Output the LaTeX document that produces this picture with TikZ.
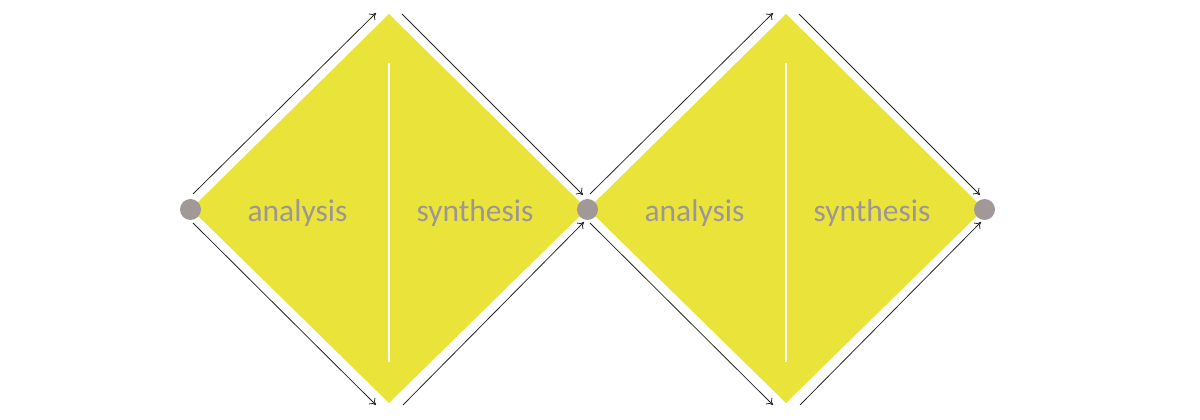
\documentclass[tikz,border=0pt]{standalone}
\usepackage{fontspec}
\setmainfont{Carlito}
\usetikzlibrary{arrows.meta}
\definecolor{dyellow}{RGB}{234,228,58}
\definecolor{dgray}{RGB}{160,153,152}
\definecolor{tgray}{RGB}{158,150,150}
\tikzset{
  dfill/.style={fill=dyellow, draw=none},
  divider/.style={draw=white, line width=1.6pt},
  flow/.style={draw=black!85, line width=0.8pt, -{To[length=6pt,width=9pt]}},
  dot/.style={circle, fill=dgray, draw=none, minimum size=21pt, inner sep=0pt},
  lbl/.style={text=tgray, font=\fontsize{31.5}{36}\selectfont, anchor=base, inner sep=0pt}
}
\begin{document}
\begin{tikzpicture}[x=1pt,y=1pt]
\useasboundingbox (0,0) rectangle (1200,420);
\foreach \dx/\i in {0/1,397/2}{
  \begin{scope}[xshift=\dx]
    \fill[dyellow] (191,211) -- (389,406) -- (587,211) -- (389,17) -- cycle;
    \draw[divider] (389,357) -- (389,58);
    \node[lbl] (an\i) at (297.5,198) {analysis};
    \node[lbl] (sy\i) at (475,198) {synthesis};
    \coordinate (ulS\i) at (193,226);
    \coordinate (ulE\i) at (376,407);
    \coordinate (urS\i) at (402,406);
    \coordinate (urE\i) at (583,225);
    \coordinate (llS\i) at (193,197);
    \coordinate (llE\i) at (376,15);
    \coordinate (lrS\i) at (403,15);
    \coordinate (lrE\i) at (584,198);
    \draw[flow] (ulS\i) -- (ulE\i);
    \draw[flow] (urS\i) -- (urE\i);
    \draw[flow] (llS\i) -- (llE\i);
    \draw[flow] (lrS\i) -- (lrE\i);
  \end{scope}
}
\node[dot] (d1) at (190.5,210.5) {};
\node[dot] (d2) at (587.5,210.5) {};
\node[dot] (d3) at (984.5,210.5) {};
\end{tikzpicture}
\end{document}
